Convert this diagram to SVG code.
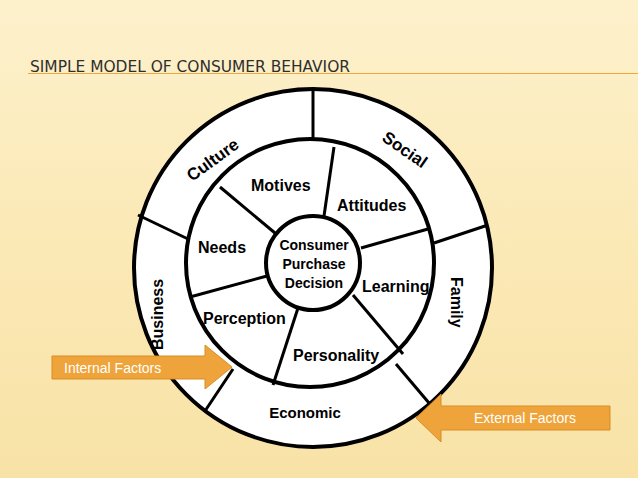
<svg xmlns="http://www.w3.org/2000/svg" width="638" height="478" viewBox="0 0 638 478">
<defs>
<linearGradient id="bg" x1="0" y1="0" x2="0" y2="1"><stop offset="0" stop-color="#fdf1cc"/><stop offset="0.5" stop-color="#fbe9b6"/><stop offset="1" stop-color="#f8e2a6"/></linearGradient>
<style>
.ln{stroke:#000;stroke-width:3;fill:none}
.b{font-family:"Liberation Sans",Arial,sans-serif;font-weight:bold;fill:#000}
.ar{fill:#eea43a;stroke:#d98d25;stroke-width:1}
.w{font-family:"Liberation Sans",Arial,sans-serif;font-size:14px;fill:#fff}
</style>
</defs>
<rect width="638" height="478" fill="url(#bg)"/>
<text x="30" y="72" font-family="'DejaVu Sans Condensed','Liberation Sans Narrow',sans-serif" font-size="16" fill="#2e2e2e" textLength="320" lengthAdjust="spacingAndGlyphs">SIMPLE MODEL OF CONSUMER BEHAVIOR</text>
<line x1="28" y1="73.5" x2="638" y2="73.5" stroke="#f0a63a" stroke-width="1"/>
<g id="outer"><circle cx="313" cy="268" r="179" fill="#fff" stroke="#000" stroke-width="4"/></g>
<g id="middle"><circle cx="310" cy="263" r="124" fill="#fff" stroke="#000" stroke-width="4"/></g>
<g id="center"><circle cx="313" cy="263" r="47" fill="#fff" stroke="#000" stroke-width="4"/>
<text class="b" font-size="14" text-anchor="middle"><tspan x="314" y="250">Consumer</tspan><tspan x="314" y="269">Purchase</tspan><tspan x="314" y="288">Decision</tspan></text></g>
<g id="connectors">
<line class="ln" x1="313" y1="90" x2="313" y2="140"/>
<line class="ln" x1="138" y1="215" x2="188" y2="239"/>
<line class="ln" x1="488" y1="225" x2="434" y2="243"/>
<line class="ln" x1="396" y1="364" x2="429" y2="403"/>
<line class="ln" x1="233" y1="369" x2="205" y2="411"/>
<line class="ln" x1="220" y1="187" x2="275" y2="233"/>
<line class="ln" x1="334" y1="147" x2="324" y2="216"/>
<line class="ln" x1="428" y1="229" x2="361" y2="248"/>
<line class="ln" x1="353" y1="295" x2="403" y2="354"/>
<line class="ln" x1="298" y1="308" x2="273" y2="385"/>
<line class="ln" x1="267" y1="276" x2="190" y2="297"/>
</g>
<g id="labels">
<text class="b" font-size="17" transform="translate(192,182) rotate(-36)">Culture</text>
<text class="b" font-size="17" transform="translate(381,140) rotate(35)">Social</text>
<text class="b" font-size="16" transform="translate(163,350) rotate(-90)">Business</text>
<text class="b" font-size="16" transform="translate(451,277) rotate(90)">Family</text>
<text class="b" font-size="15" x="305" y="418" text-anchor="middle">Economic</text>
<text class="b" font-size="16" x="251" y="191">Motives</text>
<text class="b" font-size="16" x="337" y="211">Attitudes</text>
<text class="b" font-size="16" x="198" y="253">Needs</text>
<text class="b" font-size="16" x="362" y="292">Learning</text>
<text class="b" font-size="16" x="203" y="324">Perception</text>
<text class="b" font-size="16" x="293" y="361">Personality</text>
</g>
<g id="internal"><polygon class="ar" points="52,356 205,356 205,345 232,367 205,389 205,379 52,379"/><text class="w" x="64" y="373">Internal Factors</text></g>
<g id="external"><polygon class="ar" points="610,406 441,406 441,394 416,418 441,442 441,430 610,430"/><text class="w" x="474" y="423">External Factors</text></g>
</svg>
